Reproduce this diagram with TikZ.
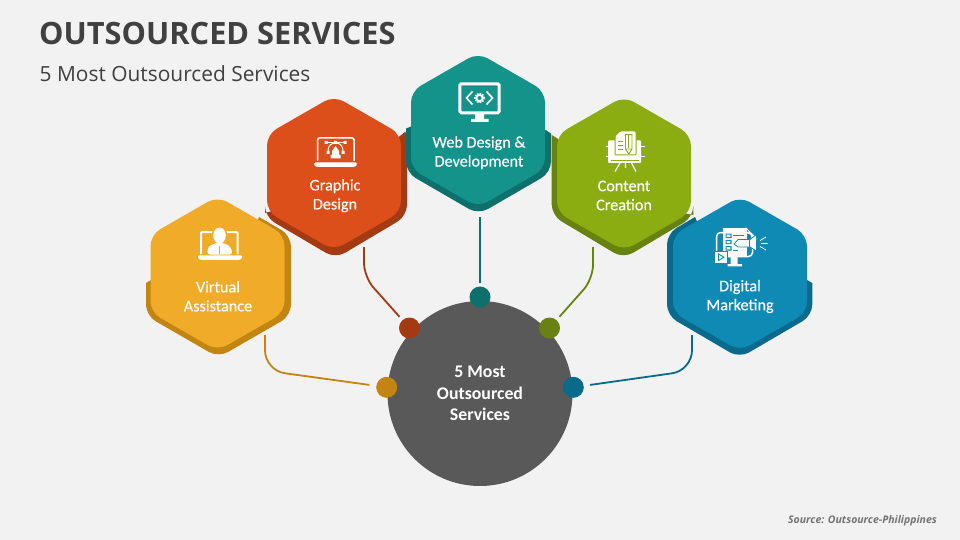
\documentclass[tikz,border=0pt]{standalone}
\usepackage{fontspec}
\setmainfont{Open Sans}
\newfontfamily\lblfont{Carlito}
\newfontfamily\lblsemi[FakeBold=0.3]{Carlito}
\definecolor{bgc}{HTML}{F2F2F2}
\definecolor{titlec}{HTML}{404040}
\definecolor{yelF}{HTML}{F0AB28}\definecolor{yelD}{HTML}{C38511}
\definecolor{oraF}{HTML}{DD4F1A}\definecolor{oraD}{HTML}{A43A12}
\definecolor{teaF}{HTML}{13938A}\definecolor{teaD}{HTML}{0E706B}
\definecolor{greF}{HTML}{8BAD12}\definecolor{greD}{HTML}{668210}
\definecolor{bluF}{HTML}{0E8AB5}\definecolor{bluD}{HTML}{0A6A8C}
\definecolor{circ}{HTML}{595959}
\tikzset{
  lbl/.style={text=white,align=center,font=\lblsemi\fontsize{16.2}{19}\selectfont,inner sep=0pt},
  dotn/.style={circle,minimum size=21pt,inner sep=0pt,fill=#1},
  conn/.style={draw=#1,line width=1.8pt},
  ico/.style={white,line width=1.5pt},
}
\newcommand{\hexfront}[3]{\fill[shift={(#1,#2)},fill=#3,rounded corners=11pt] (0,-77.2) -- (67,-38.7) -- (67,38.7) -- (0,77.2) -- (-67,38.7) -- (-67,-38.7) -- cycle;}
\begin{document}
\begin{tikzpicture}[x=1pt,y=-1pt]
\useasboundingbox (0,0) rectangle (960,540);
\fill[bgc] (0,0) rectangle (960,540);
% titles
\node[anchor=west,inner sep=0pt,text=titlec,font=\fontsize{30.75}{36}\selectfont\bfseries] (title) at (39,34) {OUTSOURCED SERVICES};
\node[anchor=west,inner sep=0pt,text=titlec,font=\fontsize{20.9}{24}\selectfont] (subtitle) at (39.5,73.5) {5 Most Outsourced Services};
\node[anchor=east,inner sep=0pt,text=black!55,font=\fontsize{10.5}{12}\selectfont\bfseries\itshape] (source) at (937,521) {Source: Outsource-Philippines};
% central circle
\node[circle,fill=circ,minimum size=185pt,inner sep=0pt,text=white,align=center,font=\lblfont\fontsize{17.8}{21.5}\selectfont\bfseries] (hub) at (480,393.5) {5 Most\\Outsourced\\Services};
% dots
\node[dotn=yelD,outer sep=7pt] (dV) at (386.7,387.3) {};
\node[dotn=oraD,outer sep=4.5pt] (dG) at (409.5,328) {};
\node[dotn=teaD,outer sep=3.5pt] (dW) at (480,297) {};
\node[dotn=greD,outer sep=4.5pt] (dC) at (549.5,328) {};
\node[dotn=bluD,outer sep=6.5pt] (dD) at (573.3,387.3) {};
% connector anchors
\coordinate (sV) at (265,335); \coordinate (bV) at (265,370.5);
\coordinate (sG) at (364,247); \coordinate (bG) at (364,277);
\coordinate (sW) at (480,217);
\coordinate (sC) at (593,247); \coordinate (bC) at (593,279);
\coordinate (sD) at (692,335); \coordinate (bD) at (692,370.5);
\draw[conn=yelD,rounded corners=20pt] (sV) -- (bV) -- (dV);
\draw[conn=oraD,rounded corners=14pt] (sG) -- (bG) -- (dG);
\draw[conn=teaD] (sW) -- (dW);
\draw[conn=greD,rounded corners=14pt] (sC) -- (bC) -- (dC);
\draw[conn=bluD,rounded corners=20pt] (sD) -- (bD) -- (dD);
% Graphic
\fill[oraD] (272,211) -- (265,213) [rounded corners=11pt] -- (265,217) -- (335.5,258.5) -- (407,216) [sharp corners] -- (407,134) -- (405,132) -- (395,140) -- (340,170) -- cycle;
\hexfront{334}{173}{oraF}
% Web
\fill[teaD] (420,135) -- (411,126.5) -- (406,128.5) [rounded corners=11pt] -- (406,172.5) -- (478.5,214.5) -- (551,172.5) [sharp corners] -- (551,133.5) -- (545.7,130) -- (530,140) -- cycle;
\hexfront{478}{130}{teaF}
% Content
\fill[greD] (570,150) -- (556.7,138) -- (551.7,135) [rounded corners=11pt] -- (551.7,215.5) -- (623.5,258.5) -- (693.3,217) [sharp corners] -- (693.3,215) -- (620,200) -- cycle;
\hexfront{624}{173.5}{greF}
% Virtual
\fill[yelD] (165,290) -- (151,280) -- (146,283) [rounded corners=11pt] -- (146,315.7) -- (218.5,357.5) -- (291,315.7) -- (291,235.5) [sharp corners] -- (259,217) -- (250,240) -- cycle;
\hexfront{217.5}{273.5}{yelF}
% Digital
\fill[bluD] (705,240) -- (695,217) [rounded corners=11pt] -- (667,233.5) -- (667,315.5) -- (739.5,358) -- (812.3,315.5) [sharp corners] -- (812.3,283) -- (807,280) -- (790,290) -- cycle;
\hexfront{740}{273.7}{bluF}
% labels
\node[lbl] (lV) at (218,296.3) {Virtual\\Assistance};
\node[lbl] (lG) at (335,195.7) {Graphic\\Design};
\node[lbl] (lW) at (479,152.7) {Web Design \&\\Development};
\node[lbl] (lC) at (624,195.5) {Content\\Creation};
\node[lbl] (lD) at (740,296.5) {Digital\\Marketing};
% icon: Virtual
\draw[ico,line width=2pt,rounded corners=1pt] (201,254) -- (201,232) -- (237.5,232) -- (237.5,254);
\fill[white,rounded corners=1pt] (198,255.3) -- (242,255.3) -- (242,258) -- (240,259.8) -- (200,259.8) -- (198,258) -- cycle;
\draw[yelF,line width=3pt] (219.5,235.5) ellipse (6.3pt and 8pt);
\draw[yelF,line width=2pt,rounded corners=3pt] (207,254) -- (208,247) -- (215,243) -- (224,243) -- (231,247) -- (232.5,254);
\fill[white] (219.5,235.5) ellipse (6.3pt and 8pt);
\fill[white,rounded corners=3pt] (207,254.5) -- (208,247) -- (215,243) -- (224,243) -- (231,247) -- (232.5,254.5) -- cycle;
\draw[yelF,line width=1pt] (219.5,246) -- (219.5,253.5);
% icon: Graphic
\draw[ico,rounded corners=1.5pt] (317.5,161) -- (317.5,138) -- (354,138) -- (354,161);
\fill[white,rounded corners=1.5pt] (314,162.5) -- (357,162.5) -- (357,165) -- (355,167) -- (316,167) -- (314,165) -- cycle;
\draw[white,line width=.8pt] (326,142.5) -- (345,142.5);
\draw[white,line width=1pt] (328,151) .. controls (328,146) and (331,143) .. (335.5,143) .. controls (340,143) and (343,146) .. (343,151);
\fill[white] (324.7,141) rectangle (327.7,144) (343.7,141) rectangle (346.7,144) (334,141) rectangle (337,144) (326.7,151) rectangle (329.7,154) (341.7,151) rectangle (344.7,154);
\fill[white] (335.5,146) -- (339,151) -- (339,155) -- (340.5,155) -- (340.5,158.5) -- (330.5,158.5) -- (330.5,155) -- (332,155) -- (332,151) -- cycle;
% icon: Web
\draw[white,line width=3pt,rounded corners=1.5pt] (459.8,83.8) rectangle (499.2,112.8);
\fill[white] (475,114) rectangle (484,119) (471,119) -- (488.5,119) -- (488.5,122) -- (471,122) -- cycle;
\draw[white,line width=1.6pt] (472.5,91.5) -- (466.5,98) -- (472.5,104.5);
\draw[white,line width=1.6pt] (486.5,91.5) -- (492.5,98) -- (486.5,104.5);
\draw[white,line width=2pt] (479.5,98) circle (3.2pt);
\draw[white,line width=1.2pt,dash pattern=on 1.5pt off 1.3pt] (479.5,98) circle (4.8pt);
% icon: Content
\fill[white,rounded corners=1pt] (608,140.5) rectangle (641,163);
\draw[white,line width=1pt] (605.5,147) -- (645,147) (605.5,157) -- (645,157);
\draw[greF,line width=.8pt] (610.5,160) -- (638.5,160);
\fill[white,draw=greF,line width=1pt,rounded corners=1pt] (620,131) -- (636,131) -- (636,155) -- (615,155) -- (615,136) -- cycle;
\draw[greF,line width=1pt] (618,142) -- (623,142) (618,146) -- (623,146) (618,150) -- (623,150);
\draw[greF,line width=.9pt] (625.5,134.5) rectangle (632,149) (625.5,149) -- (628.75,154) -- (632,149);
\draw[greF,line width=.7pt] (628.75,135) -- (628.75,148);
\draw[white,line width=1.2pt] (620,163) -- (615,171.5) (625.5,163) -- (625.5,168) (631.5,163) -- (636,171.5);
% icon: Digital
\draw[ico,rounded corners=4pt] (716.5,252) -- (716.5,232.5) -- (750,232.5) -- (752.5,235) -- (752.5,256.5) -- (724,256.5);
\fill[white] (722.5,228) rectangle (747,255.5);
\fill[bluF] (725.5,233.5) rectangle (731.5,238) (725.5,239.8) rectangle (731.5,244.2) (725.5,246) rectangle (731.5,250.5);
\fill[white] (726.7,234.7) rectangle (730.3,236.8) (726.7,241) rectangle (730.3,243) (726.7,247.2) rectangle (730.3,249.3);
\draw[bluF,line width=.8pt] (733,235) -- (744,235) (733,250) -- (738,250);
\fill[white,draw=bluF,line width=.8pt] (734,244) -- (738,239.5) -- (750,239.5) -- (756.5,234.5) -- (756.5,251) -- (750,247) -- (738,247) -- cycle;
\draw[bluF,line width=.7pt] (749,240) -- (749,247);
\draw[white,line width=.8pt] (760,240.5) -- (766,237) (761,243.5) -- (767.5,243.5) (760,246.5) -- (766,250);
\fill[white,draw=bluF,line width=.8pt] (714,251) rectangle (727,263.5);
\draw[bluF,line width=.9pt] (718.5,254) -- (724,257.2) -- (718.5,260.5) -- cycle;
\fill[white] (730.5,257) rectangle (737.5,264) (727.5,264) rectangle (742,266.3);
\end{tikzpicture}
\end{document}
